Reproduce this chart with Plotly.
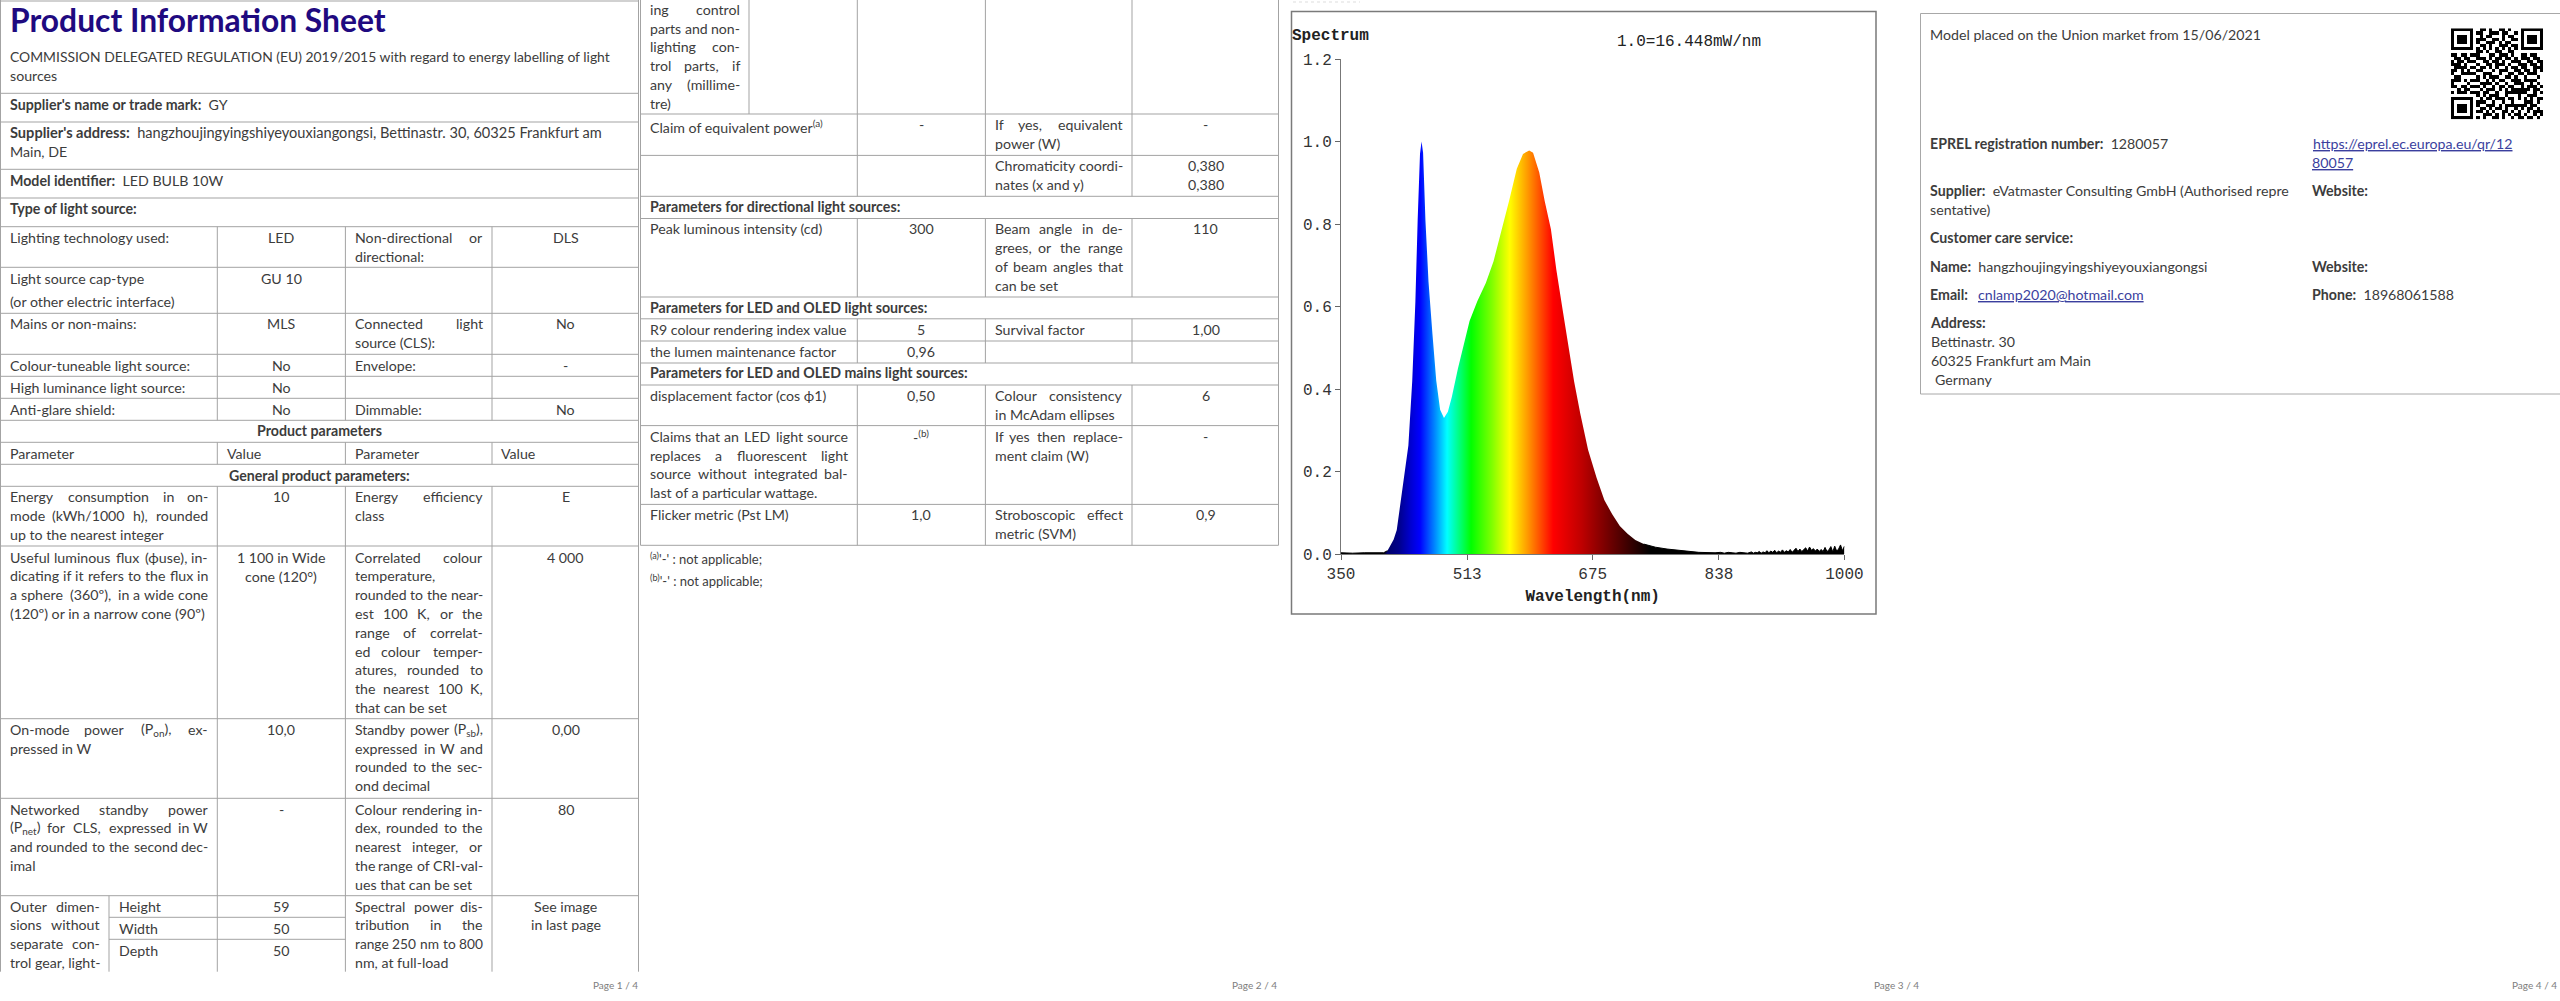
import re
import plotly.graph_objects as go

# ---- spectrum values ----
SPECTRUM_NM = [350, 365, 380, 395, 405, 410, 414, 418, 422, 427, 432, 437, 442, 446, 449, 452, 454, 456, 459, 463,
               468, 473, 478, 483, 488, 493, 501, 509, 516, 526, 537, 547, 557, 567, 577, 585, 593, 598, 606, 613,
               621, 628, 636, 644, 651, 659, 669, 680, 690, 700, 710, 720, 730, 741, 756, 771, 792, 812, 833,
               840, 845, 850, 855, 860, 865, 870, 875, 880, 882.5, 885, 887.5, 890, 892.5, 895, 897.5, 900, 902.5,
               905, 907.5, 910, 912.5, 915, 917.5, 920, 922.5, 925, 927.5, 930, 932.5, 935, 937.5, 940, 942.5, 945,
               947.5, 950, 952.5, 955, 957.5, 960, 962.5, 965, 967.5, 970, 972.5, 975, 977.5, 980, 982.5, 985,
               987.5, 990, 992.5, 995, 997.5, 1000]
SPECTRUM_VALUE = [.003, .002, .003, .002, .003, .008, .02, .035, .058, .127, .185, .263, .42, .61, .81, .97, 1.0, .973, .81, .66,
                  .535, .42, .35, .33, .345, .38, .45, .515, .565, .613, .657, .71, .78, .856, .934, .97, .978, .973, .925, .856,
                  .788, .69, .594, .496, .418, .34, .253, .185, .131, .097, .068, .049, .034, .024, .0165, .012, .007, .004, .003,
                  .004, .002, .004, .003, .002, .004, .003, .002, .005, .002, .004, .003, .006, .002, .005, .003, .008, .003,
                  .007, .004, .009, .003, .007, .004, .010, .004, .008, .005, .011, .004, .009, .014, .006, .012, .006,
                  .010, .015, .007, .017, .009, .013, .007, .012, .006, .011, .006, .016, .006, .010, .018, .005,
                  .019, .007, .012, .022, .008, .019]
COLOR_NM = [350, 405, 410, 425, 440, 452, 470, 487, 518, 545, 568, 591, 624, 660, 696, 749, 1000]
COLOR_HEX = ["#000000", "#000000", "#00006a", "#00008c", "#0000d0", "#0000ff", "#0080ff", "#00ffff", "#00ff00", "#80ff00",
             "#ffff00", "#ff9900", "#ff0000", "#c00000", "#700000", "#000000", "#000000"]
X_TICKS = [350, 513, 675, 838, 1000]
Y_TICKS = [0, 0.2, 0.4, 0.6, 0.8, 1.0, 1.2]
Y_TICK_LABELS = ["0.0", "0.2", "0.4", "0.6", "0.8", "1.0", "1.2"]

# ---- page 1 texts ----
P1_TITLE = "Product Information Sheet"
P1_WIDE = ["COMMISSION DELEGATED REGULATION (EU) 2019/2015 with regard to energy labelling of light", "sources",
           "<b>Supplier's name or trade mark:</b>\u00a0\u00a0GY",
           "<b>Supplier's address:</b>\u00a0\u00a0hangzhoujingyingshiyeyouxiangongsi, Bettinastr. 30, 60325 Frankfurt am",
           "Main, DE", "<b>Model identifier:</b>\u00a0\u00a0LED BULB 10W", "<b>Type of light source:</b>"]
P1_HEADINGS = ["<b>Product parameters</b>", "<b>General product parameters:</b>"]
P1_VALUE_HEADS = ["Value", "Value"]
P1_COL1 = [["Lighting technology used:"], ["Light source cap-type"], ["(or other electric interface)"],
           ["Mains or non-mains:"], ["Colour-tuneable light source:"], ["High luminance light source:"],
           ["Anti-glare shield:"], ["Parameter"],
           ["Energy consumption in on-", "mode (kWh/1000 h), rounded", "up to the nearest integer"],
           ["Useful luminous flux (\u03d5use), in-", "dicating if it refers to the flux in",
            "a sphere (360\u00ba), in a wide cone", "(120\u00ba) or in a narrow cone (90\u00ba)"],
           ["On-mode power (P<sub>on</sub>), ex-", "pressed in W"],
           ["Networked standby power", "(P<sub>net</sub>) for CLS, expressed in W",
            "and rounded to the second dec-", "imal"]]
P1_OUTER = ["Outer dimen-", "sions without", "separate con-", "trol gear, light-"]
P1_DIMENSIONS = ["Height", "Width", "Depth"]
P1_COL2 = ["LED", "GU 10", "MLS", "No", "No", "No", "10", "1 100 in Wide", "cone (120\u00b0)", "10,0", "-", "59", "50", "50"]
P1_COL3 = [["Non-directional or", "directional:"], ["Connected light", "source (CLS):"], ["Envelope:"], ["Dimmable:"],
           ["Parameter"], ["Energy efficiency", "class"],
           ["Correlated colour", "temperature,"],
           ["rounded to the near-", "est 100 K, or the", "range of correlat-", "ed colour temper-",
            "atures, rounded to", "the nearest 100 K,", "that can be set"],
           ["Standby power (P<sub>sb</sub>),", "expressed in W and", "rounded to the sec-", "ond decimal"],
           ["Colour rendering in-", "dex, rounded to the", "nearest integer, or", "the range of CRI-val-", "ues that can be set"],
           ["Spectral power dis-", "tribution in the", "range 250 nm to 800", "nm, at full-load"]]
P1_COL4 = ["DLS", "No", "-", "No", "E", "4 000", "0,00", "80", "See image", "in last page"]

# ---- page 2 texts ----
P2_NARROW = ["ing control", "parts and non-", "lighting con-", "trol parts, if", "any (millime-", "tre)"]
P2_WIDE = ["<b>Parameters for directional light sources:</b>", "<b>Parameters for LED and OLED light sources:</b>",
           "<b>Parameters for LED and OLED mains light sources:</b>"]
P2_COL1 = [["Claim of equivalent power<sup>(a)</sup>"], ["Peak luminous intensity (cd)"],
           ["R9 colour rendering index value"], ["the lumen maintenance factor"], ["displacement factor (cos \u03d51)"],
           ["Claims that an LED light source", "replaces a fluorescent light", "source without integrated bal-",
            "last of a particular wattage."], ["Flicker metric (Pst LM)"]]
P2_COL2 = ["-", "300", "5", "0,96", "0,50", "-<sup>(b)</sup>", "1,0"]
P2_COL3 = [["If yes, equivalent", "power (W)"], ["Chromaticity coordi-", "nates (x and y)"],
           ["Beam angle in de-", "grees, or the range", "of beam angles that", "can be set"], ["Survival factor"],
           ["Colour consistency", "in McAdam ellipses"], ["If yes then replace-", "ment claim (W)"],
           ["Stroboscopic effect", "metric (SVM)"]]
P2_COL4 = ["-", "0,380", "0,380", "110", "1,00", "6", "-", "0,9"]
P2_NOTES = ["<sup>(a)</sup>'-' : not applicable;", "<sup>(b)</sup>'-' : not applicable;"]

# ---- page 3 and 4 texts ----
P3_LABELS = ["<b>Spectrum</b>", "1.0=16.448mW/nm"]
P3_AXIS_TITLE = "<b>Wavelength(nm)</b>"
P4_LEFT = ["Model placed on the Union market from 15/06/2021", "<b>EPREL registration number:</b>\u00a0\u00a01280057",
           "<b>Supplier:</b>\u00a0\u00a0eVatmaster Consulting GmbH (Authorised repre", "sentative)",
           "<b>Customer care service:</b>", "<b>Name:</b>\u00a0\u00a0hangzhoujingyingshiyeyouxiangongsi",
           "<b>Email:</b>", "<b>Address:</b>"]
P4_ADDRESS = ["Bettinastr. 30", "60325 Frankfurt am Main", "Germany"]
P4_RIGHT = ["<b>Website:</b>", "<b>Website:</b>", "<b>Phone:</b>\u00a0\u00a018968061588"]
P4_LINKS = ["https://eprel.ec.europa.eu/qr/12", "80057", "cnlamp2020@hotmail.com"]
PAGE_LABELS = ["Page 1 / 4", "Page 2 / 4", "Page 3 / 4", "Page 4 / 4"]
QR_ROWS = [
    "11111110011010011010001111111",
    "10000010110011101100101000001",
    "10111010010110001011001011101",
    "10111010111001101001101011101",
    "10111010100111010110001011101",
    "10000010011010011101101000001",
    "11111110101010101010101111111",
    "00000000110100110011000000000",
    "11011011100011011101001101100",
    "01101100111010110110101110110",
    "10110111001101101001110011011",
    "11101000100110111010011101101",
    "01111011011010100101101100111",
    "11010100110001011100110110101",
    "10011111001110010011011011100",
    "01100000101011100110100100010",
    "11101011100101011001110111100",
    "10000100011110100100111001010",
    "11011011101001011011001011101",
    "00101100010111010101111110110",
    "10111011101100100111111100101",
    "00000000101011100100010011100",
    "11111110010110111011010101011",
    "10000010111001001001000111010",
    "10111010100111010111111101100",
    "10111010011010110100101011010",
    "10111010110101001101010010111",
    "10000010001110101010110100101",
    "11111110101001101001011011010",
]

# ---- layout ----
W, H = 2560, 1001
BODY = "Lato"
MONO = "Liberation Mono"
SIZE = 14.2
PITCH = 18.8
INK = "#3c3c3c"
RULE = "#a3a3a3"
# Lato advance widths in em, only used to spread justified lines
ADVANCE = dict(a=.51, b=.57, c=.48, d=.57, e=.53, f=.33, g=.52, h=.56, i=.25, j=.25, k=.51, l=.25, m=.83, n=.56,
               o=.58, p=.57, q=.57, r=.37, s=.44, t=.36, u=.56, v=.51, w=.77, x=.49, y=.51, z=.46,
               I=.27, M=.9, W=.93)
ADVANCE.update({".": .21, ",": .21, "-": .37, "(": .31, ")": .31, ":": .23, "/": .39})
SPACE = .27

annotations = []
shapes = []


def px(x):
    return x / W


def py(y):
    return 1 - y / H


def text(x, y, s, anchor="left", size=SIZE, color=INK, family=BODY, underline=False):
    font = dict(family=family, size=size, color=color)
    if underline:
        font["lineposition"] = "under"
    annotations.append(dict(x=px(x), y=py(y), xref="paper", yref="paper", text=s, showarrow=False,
                            xanchor=anchor, yanchor="middle", font=font, borderpad=0))


def rule(x0, y0, x1, y1, color=RULE, width=1, dash="solid"):
    shapes.append(dict(type="line", xref="paper", yref="paper", x0=px(x0), y0=py(y0), x1=px(x1), y1=py(y1),
                       line=dict(color=color, width=width, dash=dash)))


def em_width(word):
    total = 0
    small = re.findall(r"<su[bp]>(.*?)</su[bp]>", word)
    plain = re.sub(r"<su[bp]>.*?</su[bp]>", "", word)
    for c in plain:
        total += ADVANCE.get(c, .6 if c.isdigit() else .65)
    for part in small:
        total += 0.7 * sum(ADVANCE.get(c, .55) for c in part)
    return total


def justified(line, y, x0, x1):
    words = line.split(" ")
    ems = [em_width(w) for w in words]
    room = x1 - x0
    natural = (sum(ems) + SPACE * (len(words) - 1)) * SIZE
    # a line that would not fit at full size is set a little smaller
    size = SIZE if natural <= room else SIZE * room / natural
    widths = [e * size for e in ems]
    gap = (room - sum(widths)) / (len(words) - 1)
    pos = x0
    for i, w in enumerate(words):
        if i == 0:
            text(x0, y, w, size=size)
        elif i == len(words) - 1:
            text(x1, y, w, anchor="right", size=size)
        else:
            text(pos + widths[i] / 2, y, w, anchor="center", size=size)
        pos += widths[i] + gap


def cell(lines, y, x0, x1):
    # every line but the last of a paragraph runs to the full cell width
    for i, line in enumerate(lines):
        if i < len(lines) - 1:
            justified(line, y + i * PITCH, x0, x1)
        else:
            text(x0, y + i * PITCH, line)


# page 1 text
text(9, 20, "<b>" + P1_TITLE + "</b>", size=31.8, color="#1f0a80")
for s, y, size in zip(P1_WIDE, [56.7, 76, 104.3, 132.7, 151.7, 180, 208.7], [13.9, SIZE, SIZE, 14.6, SIZE, SIZE, SIZE]):
    text(9, y, s, size=size)
for s, y in zip(P1_HEADINGS, [431, 475]):
    text(319.7, y, s, anchor="center")
for s, x in zip(P1_VALUE_HEADS, [226, 500.4]):
    text(x, 453.3, s)
for lines, y in zip(P1_COL1, [237.3, 278.3, 301.7, 324, 365, 387, 409, 453.3, 496.7, 557, 729.3, 809]):
    cell(lines, y, 9, 209)
cell(P1_OUTER, 906, 9, 100.7)
for s, y in zip(P1_DIMENSIONS, [906, 928, 950]):
    text(117.7, y, s)
for s, y in zip(P1_COL2, [237.3, 278.3, 324, 365, 387, 409, 496.7, 557, 576, 729.3, 809, 906, 928, 950]):
    text(281.4, y, s, anchor="center")
for lines, y in zip(P1_COL3, [237.3, 324, 365, 409, 453.3, 496.7, 557, 594.7, 729.3, 809, 906]):
    cell(lines, y, 353.5, 484)
for s, y in zip(P1_COL4, [237.3, 324, 365, 409, 496.7, 557, 729.3, 809, 906, 924.7]):
    text(565.5, y, s, anchor="center")

# page 1 grid
for y in [1, 93.3, 122, 169.3, 198, 226.7, 267.3, 313.3, 354.3, 376.3, 398.3, 420.3, 442.3, 464.3, 486.3,
          546, 718.7, 798.3, 895.7]:
    rule(0.5, y, 638.5, y)
for y in [917.3, 939.3]:
    rule(109, y, 345.4, y)
for x in [0.5, 638.5]:
    rule(x, 0, x, 971.7)
for x in [217.3, 345.4, 492]:
    for y0, y1 in [(226.7, 420.3), (442.3, 464.3), (486.3, 971.7)]:
        rule(x, y0, x, y1)
rule(109, 895.7, 109, 971.7)

# page 2 text
cell(P2_NARROW, 9.2, 649, 740.7)
for s, y in zip(P2_WIDE, [206.7, 307.7, 373]):
    text(649, y, s)
for lines, y in zip(P2_COL1, [126.3, 228.9, 329, 351.3, 395.3, 436.3, 514.7]):
    cell(lines, y, 649, 849)
for s, y in zip(P2_COL2, [125, 228.9, 329, 351.3, 395.3, 436.3, 514.7]):
    text(921.4, y, s, anchor="center")
for lines, y in zip(P2_COL3, [125, 165.7, 228.9, 329, 395.3, 436.3, 514.7]):
    cell(lines, y, 993.5, 1124)
for s, y in zip(P2_COL4, [125, 165.7, 184.5, 228.9, 329, 395.3, 436.3, 514.7]):
    text(1205.5, y, s, anchor="center")
for s, y in zip(P2_NOTES, [558, 580]):
    text(649, y, s, size=13)

# page 2 grid
for y in [114, 155.4, 196.3, 218.5, 297, 318.8, 341, 363, 385, 425.6, 504.4, 545.3]:
    rule(640.5, y, 1278.5, y)
for x in [640.5, 1278.5]:
    rule(x, 0, x, 545.3)
for x in [857.3, 985.4, 1132]:
    for y0, y1 in [(0, 196.3), (218.5, 297), (318.8, 363), (385, 545.3)]:
        rule(x, y0, x, y1)
rule(749, 0, 749, 114)

# page 3 frame and labels
shapes.append(dict(type="rect", xref="paper", yref="paper", x0=px(1291.5), y0=py(11.5), x1=px(1876), y1=py(614),
                   line=dict(color="#7a7a7a", width=1.5), fillcolor="rgba(0,0,0,0)"))
rule(1293, 2, 1360, 2, color="#dddddd", dash="dot")
text(1291, 36, P3_LABELS[0], family=MONO, size=16, color="#222222")
text(1616, 42, P3_LABELS[1], family=MONO, size=16, color="#222222")

# page 4 box and text
shapes.append(dict(type="rect", xref="paper", yref="paper", x0=px(1920.5), y0=py(13.5), x1=px(2561), y1=py(394),
                   line=dict(color="#a8a8a8", width=1), fillcolor="rgba(0,0,0,0)"))
for s, y in zip(P4_LEFT, [34.7, 143.3, 190.7, 209.7, 237.7, 266, 294.3, 322.7]):
    text(1928.6, y, s)
for s, x, y in zip(P4_ADDRESS, [1930, 1930, 1933.7], [341.3, 360.3, 379.3]):
    text(x, y, s)
for s, y in zip(P4_RIGHT, [190.7, 266, 294.3]):
    text(2311, y, s)
for s, x, y in zip(P4_LINKS, [2311.6, 2311, 1976.5], [143.3, 162.3, 294.3]):
    text(x, y, s, color="#3b3f9e", underline=True)

for s, x in zip(PAGE_LABELS, [638.5, 1278, 1920, 2558]):
    text(x, 985, s, anchor="right", size=10, color="#7d7d7d")

# ---- traces ----
span = COLOR_NM[-1] - COLOR_NM[0]
gradient = [[(nm - COLOR_NM[0]) / span, c] for nm, c in zip(COLOR_NM, COLOR_HEX)]

fig = go.Figure()
fig.add_trace(go.Scatter(x=SPECTRUM_NM, y=SPECTRUM_VALUE, mode="lines", line=dict(width=0), fill="tozeroy",
                         fillgradient=dict(type="horizontal", colorscale=gradient, start=COLOR_NM[0], stop=COLOR_NM[-1]),
                         hoverinfo="skip", showlegend=False, xaxis="x", yaxis="y"))
# the low ends of the spectrum read as a thin black line
head = [i for i, nm in enumerate(SPECTRUM_NM) if nm <= 410]
tail = [i for i, nm in enumerate(SPECTRUM_NM) if nm >= 741]
for part in (head, tail):
    fig.add_trace(go.Scatter(x=[SPECTRUM_NM[i] for i in part], y=[SPECTRUM_VALUE[i] for i in part], mode="lines",
                             line=dict(color="#000000", width=1), hoverinfo="skip", showlegend=False,
                             xaxis="x", yaxis="y"))
fig.add_trace(go.Heatmap(z=[[int(c) for c in row] for row in QR_ROWS], colorscale=[[0, "#ffffff"], [1, "#000000"]],
                         showscale=False, hoverinfo="skip", xaxis="x2", yaxis="y2"))

fig.update_layout(
    width=W, height=H, margin=dict(l=0, r=0, t=0, b=0, autoexpand=False), paper_bgcolor="white", plot_bgcolor="white",
    showlegend=False, annotations=annotations, shapes=shapes,
    xaxis=dict(domain=[px(1341), px(1844.4)], range=[350, 1000], tickmode="array", tickvals=X_TICKS,
               ticks="outside", ticklen=5, tickcolor="#666666", showline=True, linecolor="#777777", linewidth=1,
               showgrid=False, zeroline=False, anchor="y",
               tickfont=dict(family=MONO, size=16, color="#333333"),
               title=dict(text=P3_AXIS_TITLE, font=dict(family=MONO, size=16, color="#222222"), standoff=6)),
    yaxis=dict(domain=[py(554), py(59)], range=[0, 1.2], tickmode="array", tickvals=Y_TICKS, ticktext=Y_TICK_LABELS,
               ticks="outside", ticklen=5, tickcolor="#666666", showline=True, linecolor="#777777", linewidth=1,
               showgrid=False, zeroline=False, anchor="x",
               tickfont=dict(family=MONO, size=16, color="#333333")),
    xaxis2=dict(domain=[px(2451), px(2543)], visible=False, anchor="y2", constrain="domain"),
    yaxis2=dict(domain=[py(119.3), py(28.3)], visible=False, autorange="reversed", anchor="x2"),
)

fig.write_html("out.html", config={"displayModeBar": False}, post_script="document.body.style.margin='0';")
